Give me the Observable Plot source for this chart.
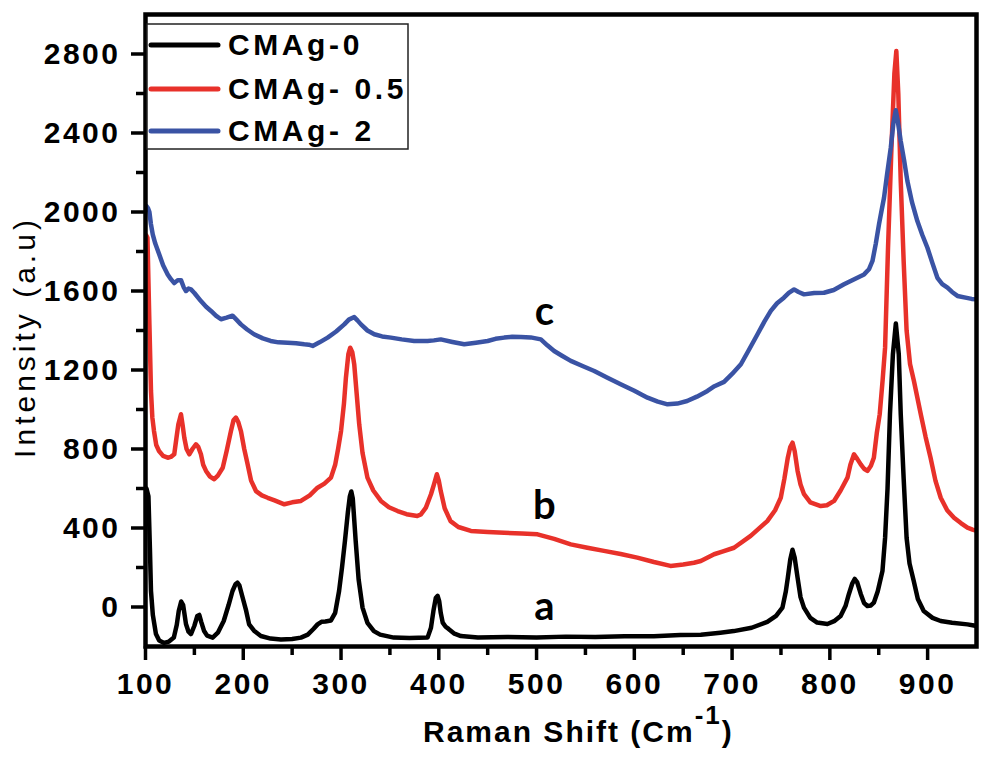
<!DOCTYPE html>
<html>
<head>
<meta charset="utf-8">
<script src="https://cdn.jsdelivr.net/npm/d3@7"></script>
<script src="https://cdn.jsdelivr.net/npm/@observablehq/plot@0.6"></script>
<style>
  body { margin: 0; background: #fff; }
  #chart svg { display: block; background: #fff; }
  #chart [aria-label="x-axis tick label"] text,
  #chart [aria-label="y-axis tick label"] text { letter-spacing: 2.5px; }
</style>
</head>
<body>
<div id="chart"></div>
<script>
// Raman spectra of the three samples: [Raman shift (cm^-1), intensity (a.u.)]
const cmag0 = [
  [101, 600], [103, 560], [104.5, 300], [105.6, 81], [107.5, -40], [110.7, -137], [114, -170],
  [119, -182], [124, -175], [129, -155], [132, -90], [134, -20], [136.5, 28], [138.5, 10],
  [141.4, -86], [144, -125], [146.5, -137], [150, -95], [153, -45], [155, -40], [157, -75],
  [159.8, -120], [163, -145], [168.7, -155], [174, -130], [180, -71], [185, 10], [189, 81],
  [192, 115], [194, 123], [196, 110], [199.4, 47], [203, -20], [206, -88], [211, -120],
  [218, -147], [228, -160], [238.5, -164], [250, -162], [259, -155], [266, -140], [272, -110],
  [276, -88], [280, -75], [284, -73], [289.7, -68], [294, -30], [298, 81], [301, 200],
  [304, 334], [307, 480], [309, 560], [310.5, 585], [312, 550], [315, 334], [318, 140],
  [322, -3], [327, -80], [333.6, -122], [340, -140], [354, -155], [370, -157], [388.5, -155],
  [392, -105], [394.5, -20], [397, 47], [398.8, 56], [400.4, 30], [402, -30], [404, -79],
  [407, -100], [410, -111], [416, -135], [422.6, -147], [440, -155], [470, -152], [500, -155],
  [530, -150], [560, -152], [590, -148], [620, -148], [647, -142], [668, -140], [688, -130],
  [701.7, -122], [720, -105], [736, -75], [745, -45], [751.5, -3], [755, 80], [757, 148],
  [759.5, 240], [761.8, 290], [764, 250], [767, 148], [770, 50], [773.5, -3], [780, -55],
  [787, -79], [797.5, -86], [805, -70], [811, -46], [816, 5], [819.5, 66], [823, 120],
  [825.5, 142], [828, 125], [831.6, 66], [835, 20], [838.4, 5], [842, 8], [845, 22], [849, 80],
  [853.8, 182], [856.5, 350], [859, 600], [861.5, 977], [864.5, 1280], [867.5, 1435],
  [870.5, 1280], [872.5, 977], [875.5, 650], [878.5, 350], [881.5, 220], [885.8, 132],
  [890, 40], [896, -20], [905, -55], [913.4, -71], [925, -80], [940.7, -88], [950, -96]
];

const cmag05 = [
  [101, 1880], [102, 1870], [103, 1650], [104, 1432], [105.6, 1094], [107, 960], [108.7, 891],
  [111, 820], [113.8, 790], [118, 765], [122.7, 756], [126, 760], [129.4, 773], [131.5, 850],
  [133.6, 925], [136.3, 976], [138, 920], [139.7, 857], [142, 800], [144.8, 773], [148, 800],
  [151.6, 824], [154, 810], [156.7, 773], [159, 720], [161.9, 689], [166, 660], [170.3, 647],
  [174, 665], [179, 705], [183, 790], [187.4, 891], [190, 945], [192.5, 959], [195, 935],
  [197.6, 891], [201, 800], [204.5, 722], [208, 640], [213, 587], [219, 565], [225, 553],
  [232, 540], [242, 520], [250, 530], [259, 537], [268, 565], [276, 604], [283, 625],
  [289.7, 655], [294, 720], [297, 800], [300, 891], [303, 1030], [305, 1161], [307.5, 1280],
  [309.4, 1313], [311.5, 1290], [313.5, 1229], [316, 1080], [318.6, 925], [322, 780],
  [327, 655], [333, 590], [340.8, 537], [349, 505], [357.9, 486], [367, 470], [378, 461],
  [381.7, 469], [386.8, 503], [392, 571], [395, 620], [398, 672], [400, 640], [402, 587],
  [406, 500], [412, 435], [420, 405], [432.8, 385], [450, 380], [466.9, 376], [485, 372],
  [501, 368], [518, 345], [535, 317], [552, 300], [569, 284], [586, 268], [603, 250],
  [620, 228], [637, 208], [650, 215], [661, 224], [668, 233], [681.6, 267], [690, 280],
  [702, 300], [719, 360], [736, 435], [744, 490], [749.8, 553], [753.5, 650], [757, 756],
  [759.5, 810], [761.8, 832], [764, 790], [767, 689], [770, 620], [773.6, 571], [780, 530],
  [790.7, 511], [797, 515], [804.3, 537], [811, 590], [818, 655], [821, 720], [824.7, 773],
  [828, 750], [831.6, 722], [835, 700], [838.4, 689], [842, 715], [845, 756], [848, 880],
  [851, 976], [854, 1150], [856.5, 1313], [859.5, 1819], [863, 2325], [866, 2700],
  [868, 2815], [870, 2600], [872.5, 2157], [875.5, 1750], [878.5, 1400], [882, 1230],
  [886, 1144], [893, 976], [898, 860], [903, 756], [908, 640], [913.4, 553], [920, 490],
  [927, 452], [934, 425], [940.7, 402], [946, 392], [951, 385]
];

const cmag2 = [
  [101, 2030], [102.5, 2020], [104, 2000], [105.5, 1940], [107.4, 1887], [110, 1840],
  [114, 1786], [118, 1730], [122.7, 1684], [126, 1660], [129.4, 1640], [133, 1655],
  [136.3, 1655], [139, 1620], [141.4, 1600], [144, 1612], [146.5, 1608], [150, 1590],
  [156.7, 1549], [162, 1520], [167, 1499], [172, 1475], [177.2, 1457], [183, 1465],
  [189, 1475], [193, 1455], [197.6, 1431], [204, 1405], [211, 1381], [220, 1360], [228, 1347],
  [236, 1340], [245.4, 1338], [254, 1335], [262.4, 1330], [267, 1328], [271, 1322],
  [278, 1340], [286.3, 1364], [295, 1395], [303.3, 1431], [308, 1455], [313.5, 1468],
  [317, 1450], [320.4, 1431], [327, 1400], [334, 1381], [342, 1370], [351, 1364], [362, 1355],
  [374.8, 1347], [388.5, 1347], [395, 1350], [402, 1355], [414, 1342], [426, 1330],
  [438, 1338], [450, 1347], [458, 1358], [466.9, 1364], [475, 1368], [484, 1367], [494, 1365],
  [504.4, 1355], [511, 1325], [518, 1296], [526, 1272], [535, 1246], [547, 1220], [559, 1195],
  [572, 1162], [586, 1128], [600, 1095], [613.5, 1060], [624, 1040], [634, 1026], [644, 1030],
  [654, 1043], [664, 1065], [674.8, 1094], [682, 1118], [691.8, 1140], [700, 1180],
  [709, 1229], [717, 1300], [726, 1381], [733, 1445], [739.6, 1499], [746, 1538], [753, 1566],
  [758, 1590], [763.4, 1608], [768, 1595], [773.6, 1583], [784, 1590], [794, 1591],
  [804, 1605], [814.5, 1634], [825, 1660], [835, 1684], [840, 1710], [843.6, 1752],
  [847, 1840], [850.3, 1938], [853, 2010], [855.4, 2072], [858.5, 2190], [862.3, 2325],
  [865, 2450], [867.4, 2515], [869.5, 2460], [872.5, 2359], [876, 2260], [879.3, 2157],
  [884, 2050], [889.5, 1954], [894.5, 1885], [899.8, 1819], [905, 1740], [910, 1667],
  [915, 1635], [920.3, 1617], [925, 1595], [930.5, 1575], [940, 1565], [945, 1560], [950, 1558]
];

const seriesNames = ["CMAg-0", "CMAg- 0.5", "CMAg- 2"];
const seriesColors = ["#000000", "#e8312a", "#3a53a4"];

const xMajorTicks = [100, 200, 300, 400, 500, 600, 700, 800, 900];
const xMinorTicks = [150, 250, 350, 450, 550, 650, 750, 850];
const yMajorTicks = [0, 400, 800, 1200, 1600, 2000, 2400, 2800];
const yMinorTicks = [200, 600, 1000, 1400, 1800, 2200, 2600];

// letters naming each trace, placed beside the curve they belong to
const curveLetters = [
  {letter: "c", shift: 508, intensity: 1495},
  {letter: "b", shift: 508, intensity: 512},
  {letter: "a", shift: 508, intensity: 1}
];

const W = 1005, H = 758;
const margin = {left: 145, right: 29, top: 14, bottom: 112};
const sansFont = "'Liberation Sans', Arial, sans-serif";

const lineOpts = (color) => ({x: d => d[0], y: d => d[1], stroke: color, strokeWidth: 4.5,
  strokeLinejoin: "round", strokeLinecap: "round", clip: true});

const chart = Plot.plot({
  width: W, height: H,
  marginLeft: margin.left, marginRight: margin.right,
  marginTop: margin.top, marginBottom: margin.bottom,
  style: {fontFamily: sansFont, background: "#fff", color: "#000"},
  x: {domain: [100, 950]},
  y: {domain: [-200, 3000]},
  marks: [
    Plot.line(cmag0, lineOpts(seriesColors[0])),
    Plot.line(cmag05, lineOpts(seriesColors[1])),
    Plot.line(cmag2, lineOpts(seriesColors[2])),
    Plot.text(curveLetters, {x: "shift", y: "intensity", text: "letter",
      fontFamily: "Lato, 'Open Sans', sans-serif", fontWeight: "bold", fontSize: 40, fill: "#000"}),
    Plot.axisX({ticks: xMajorTicks, tickSize: 14, tickPadding: 12, strokeWidth: 3.5,
      fontSize: 30, fontWeight: "bold", tickFormat: d3.format("d"), label: null}),
    Plot.axisX({ticks: xMinorTicks, tickSize: 9, strokeWidth: 3.5, tickFormat: () => "", label: null}),
    Plot.axisY({ticks: yMajorTicks, tickSize: 14, tickPadding: 11, strokeWidth: 3.5,
      fontSize: 30, fontWeight: "bold", tickFormat: d3.format("d"), label: null}),
    Plot.axisY({ticks: yMinorTicks, tickSize: 9, strokeWidth: 3.5, tickFormat: () => "", label: null}),
    Plot.frame({stroke: "#000", strokeWidth: 4.5})
  ]
});

const svg = d3.select(chart);

// legend box in the upper-left corner of the frame
const legend = svg.append("g").attr("text-anchor", "start");
legend.append("rect")
  .attr("x", 147).attr("y", 24).attr("width", 261).attr("height", 125)
  .attr("fill", "#fff").attr("stroke", "#222").attr("stroke-width", 1.5);
const legendRows = [45, 89, 131];
seriesNames.forEach((name, i) => {
  legend.append("line")
    .attr("x1", 151).attr("x2", 218).attr("y1", legendRows[i]).attr("y2", legendRows[i])
    .attr("stroke", seriesColors[i]).attr("stroke-width", 5).attr("stroke-linecap", "round");
  legend.append("text")
    .attr("x", 228).attr("y", legendRows[i] + 10)
    .attr("text-anchor", "start")
    .attr("font-family", sansFont)
    .attr("font-size", 30).attr("font-weight", "bold").attr("letter-spacing", 3.6)
    .attr("fill", "#000").text(name);
});

// axis titles
const xTitle = svg.append("text")
  .attr("x", 423).attr("y", 742)
  .attr("text-anchor", "start")
  .attr("font-family", sansFont)
  .attr("font-size", 30).attr("font-weight", "bold").attr("letter-spacing", 2)
  .attr("fill", "#000");
xTitle.append("tspan").text("Raman Shift (Cm");
xTitle.append("tspan").attr("dy", -18).attr("font-size", 26).text("-1");
xTitle.append("tspan").attr("dy", 18).text(")");

svg.append("text")
  .attr("transform", "translate(35,337) rotate(-90)")
  .attr("text-anchor", "middle")
  .attr("font-family", sansFont)
  .attr("font-size", 30).attr("letter-spacing", 4)
  .attr("fill", "#000")
  .text("Intensity (a.u)");

document.getElementById("chart").append(chart);
</script>
</body>
</html>
